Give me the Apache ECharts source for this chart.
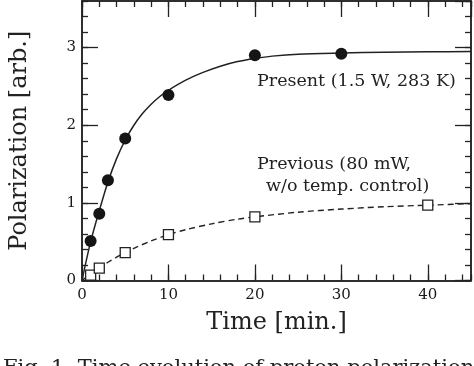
<!DOCTYPE html>
<html>
<head>
<meta charset="utf-8">
<script src="https://cdn.jsdelivr.net/npm/echarts@6/dist/echarts.min.js"></script>
<style>html,body{margin:0;padding:0;background:#fff}#c{width:474px;height:366px}</style>
</head>
<body>
<div id="c"></div>
<script>
// Measured points
const presentTime = [1, 2, 3, 5, 10, 20, 30];
const presentPol = [0.51, 0.86, 1.29, 1.83, 2.39, 2.90, 2.92];
const previousTime = [1, 2, 5, 10, 20, 40];
const previousPol = [0.07, 0.16, 0.36, 0.59, 0.82, 0.97];
// Fitted curves
const presentFitTime = [0, 1, 2, 3, 4, 5, 6, 7, 8, 9, 10, 12, 14, 16, 18, 20, 22, 25, 30, 35, 40, 45];
const presentFitPol = [0, 0.5, 0.9, 1.27, 1.57, 1.81, 2.0, 2.15, 2.27, 2.37, 2.45, 2.58, 2.68, 2.76, 2.82, 2.86, 2.89, 2.915, 2.93, 2.94, 2.945, 2.95];
const previousFitTime = [0, 1, 2, 3, 4, 5, 6, 8, 10, 12, 15, 18, 20, 25, 30, 35, 40, 45];
const previousFitPol = [0, 0.085, 0.165, 0.235, 0.3, 0.36, 0.415, 0.51, 0.59, 0.655, 0.73, 0.79, 0.82, 0.88, 0.92, 0.95, 0.97, 0.99];
// Tick labels
const xTickLabels = ['0', '10', '20', '30', '40'];
const yTickLabels = ['0', '1', '2', '3'];
const xTitle = 'Time [min.]';
const yTitle = 'Polarization [arb.]';
const presentLabel = 'Present (1.5 W, 283 K)';
const previousLabel1 = 'Previous (80 mW,';
const previousLabel2 = 'w/o temp. control)';
const caption = 'Fig. 1. Time evolution of proton polarization';

const pair = (xs, ys) => xs.map((x, i) => [x, ys[i]]);
const ink = '#222';
const serif = '"DejaVu Serif", "Liberation Serif", serif';
const X_MIN = 0, X_MAX = 45, Y_MIN = 0, Y_MAX = 3.6;

function xAx(pos, interval, len, labels) {
  return {
    type: 'value', position: pos, min: X_MIN, max: X_MAX, interval: interval,
    axisLine: { show: true, onZero: false, lineStyle: { color: ink, width: 1.5 } },
    axisTick: { show: true, inside: true, length: len, lineStyle: { color: ink, width: 1.3 } },
    splitLine: { show: false },
    axisLabel: labels ? {
      show: true, margin: 7, color: '#1a1a1a', fontFamily: serif, fontSize: 15,
      showMaxLabel: false,
      formatter: v => xTickLabels.includes(String(v)) ? String(v) : ''
    } : { show: false }
  };
}
function yAx(pos, interval, len, labels) {
  return {
    type: 'value', position: pos, min: Y_MIN, max: Y_MAX, interval: interval,
    axisLine: { show: true, onZero: false, lineStyle: { color: ink, width: 1.5 } },
    axisTick: { show: true, inside: true, length: len, lineStyle: { color: ink, width: 1.3 } },
    splitLine: { show: false },
    axisLabel: labels ? {
      show: true, margin: 6, color: '#1a1a1a', fontFamily: serif, fontSize: 15,
      showMaxLabel: false,
      formatter: v => yTickLabels.includes(String(v)) ? String(v) : ''
    } : { show: false }
  };
}

const chart = echarts.init(document.getElementById('c'), null, { renderer: 'canvas' });
chart.setOption({
  backgroundColor: '#fff',
  animation: false,
  grid: { left: 81, right: 3, top: 1, bottom: 85.5, containLabel: false },
  xAxis: [
    Object.assign(xAx('bottom', 10, 16, true), {
      name: xTitle, nameLocation: 'middle', nameGap: 30,
      nameTextStyle: { fontFamily: serif, fontSize: 24, color: ink }
    }),
    xAx('bottom', 2, 6, false),
    xAx('top', 10, 16, false),
    xAx('top', 2, 6, false)
  ],
  yAxis: [
    Object.assign(yAx('left', 1, 16, true), {
      name: yTitle, nameLocation: 'middle', nameGap: 50,
      nameTextStyle: { fontFamily: serif, fontSize: 24, color: ink }
    }),
    yAx('left', 0.2, 6, false),
    yAx('right', 1, 16, false),
    yAx('right', 0.2, 6, false)
  ],
  series: [
    {
      type: 'line', data: pair(presentFitTime, presentFitPol), smooth: 0.3,
      showSymbol: false, lineStyle: { color: ink, width: 1.5 }, z: 2
    },
    {
      type: 'line', data: pair(previousFitTime, previousFitPol), smooth: 0.3,
      showSymbol: false, lineStyle: { color: ink, width: 1.4, type: [6, 4] }, z: 2
    },
    {
      type: 'scatter', data: pair(presentTime, presentPol), symbol: 'circle', symbolSize: 12,
      itemStyle: { color: '#151515', opacity: 1 }, z: 3
    },
    {
      type: 'scatter', data: pair(previousTime, previousPol), symbol: 'rect', symbolSize: 10,
      itemStyle: { color: '#fff', borderColor: ink, borderWidth: 1.3, opacity: 1 }, z: 3
    }
  ],
  graphic: [
    { type: 'text', left: 257, top: 72, style: { text: presentLabel, font: '17.5px ' + serif, fill: ink } },
    { type: 'text', left: 257, top: 155, style: { text: previousLabel1, font: '17.5px ' + serif, fill: ink } },
    { type: 'text', left: 266, top: 177, style: { text: previousLabel2, font: '17.5px ' + serif, fill: ink } },
    { type: 'text', left: 3, top: 358, style: { text: caption, font: '21px ' + serif, fill: ink } }
  ]
});
</script>
</body>
</html>
